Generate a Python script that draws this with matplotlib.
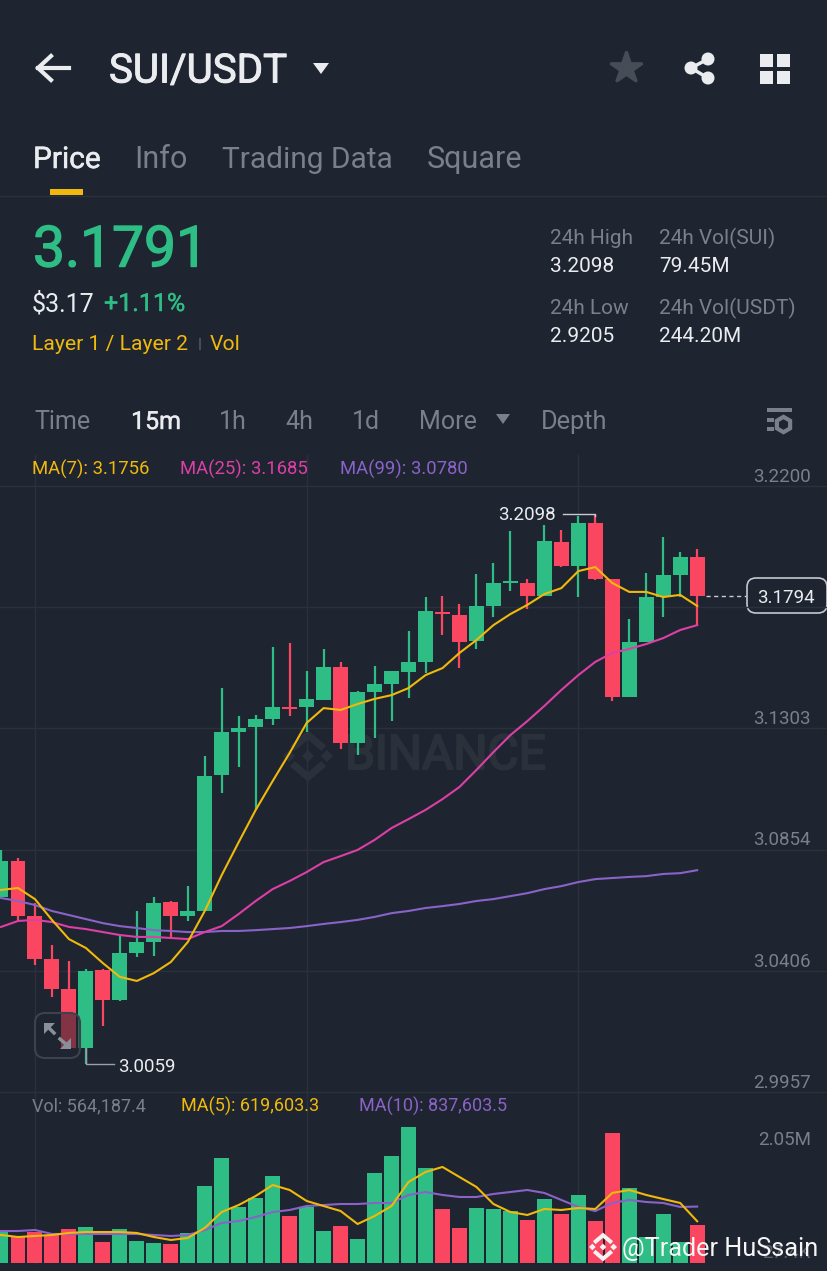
import matplotlib
matplotlib.use("Agg")
import matplotlib.pyplot as plt
import matplotlib.patheffects as pe
from matplotlib.patches import Circle, FancyBboxPatch, Polygon, Rectangle

plt.rcParams['font.family'] = ['Roboto', 'DejaVu Sans']

# candles, 15m SUI/USDT
opens = [3.0679, 3.0812, 3.0608, 3.0449, 3.0338, 3.0120, 3.0408, 3.0297, 3.0471, 3.0512, 3.0660, 3.0608, 3.0627, 3.1130,
         3.1289, 3.1308, 3.1338, 3.1382, 3.1382, 3.1408, 3.1530, 3.1249, 3.1437, 3.1467, 3.1512, 3.1549, 3.1734, 3.1722,
         3.1626, 3.1756, 3.1841, 3.1841, 3.1793, 3.1993, 3.1904, 3.2063, 3.1856, 3.1419, 3.1623, 3.1789, 3.1871, 3.1937]
closes = [3.0812, 3.0608, 3.0449, 3.0338, 3.0120, 3.0405, 3.0297, 3.0471, 3.0512, 3.0656, 3.0608, 3.0627, 3.1127, 3.1289,
          3.1304, 3.1338, 3.1382, 3.1375, 3.1412, 3.1530, 3.1249, 3.1437, 3.1467, 3.1515, 3.1549, 3.1737, 3.1726, 3.1623,
          3.1756, 3.1841, 3.1848, 3.1793, 3.1996, 3.1904, 3.2063, 3.1856, 3.1419, 3.1623, 3.1789, 3.1871, 3.1937, 3.1794]
highs = [3.0853, 3.0823, 3.0656, 3.0501, 3.0442, 3.0412, 3.0412, 3.0538, 3.0627, 3.0679, 3.0664, 3.0719, 3.1201, 3.1452,
         3.1349, 3.1352, 3.1604, 3.1619, 3.1515, 3.1597, 3.1549, 3.1441, 3.1534, 3.1515, 3.1663, 3.1789, 3.1793, 3.1763,
         3.1874, 3.1915, 3.2033, 3.1856, 3.2056, 3.2037, 3.2089, 3.2098, 3.1856, 3.1708, 3.1878, 3.2011, 3.1956, 3.1967]
lows = [3.0679, 3.0590, 3.0427, 3.0308, 3.0120, 3.0059, 3.0201, 3.0294, 3.0457, 3.0460, 3.0527, 3.0590, 3.0627, 3.1064,
        3.1160, 3.1001, 3.1315, 3.1349, 3.1289, 3.1408, 3.1226, 3.1204, 3.1267, 3.1330, 3.1415, 3.1508, 3.1648, 3.1526,
        3.1597, 3.1715, 3.1811, 3.1745, 3.1793, 3.1900, 3.1789, 3.1852, 3.1404, 3.1419, 3.1623, 3.1715, 3.1789, 3.1682]
ma7 = [3.0705, 3.0712, 3.0671, 3.0594, 3.0523, 3.0490, 3.0434, 3.0383, 3.0368, 3.0397, 3.0438, 3.0512, 3.0627, 3.0760,
       3.0882, 3.1001, 3.1108, 3.1212, 3.1323, 3.1378, 3.1371, 3.1393, 3.1412, 3.1426, 3.1452, 3.1500, 3.1526, 3.1582,
       3.1630, 3.1685, 3.1726, 3.1760, 3.1800, 3.1822, 3.1885, 3.1900, 3.1841, 3.1808, 3.1808, 3.1789, 3.1797, 3.1756]
ma25 = [3.0568, 3.0590, 3.0594, 3.0586, 3.0568, 3.0560, 3.0549, 3.0538, 3.0531, 3.0531, 3.0527, 3.0523, 3.0549, 3.0571,
        3.0616, 3.0664, 3.0708, 3.0738, 3.0771, 3.0808, 3.0830, 3.0853, 3.0890, 3.0934, 3.0967, 3.1001, 3.1041, 3.1086,
        3.1149, 3.1215, 3.1278, 3.1330, 3.1386, 3.1445, 3.1500, 3.1549, 3.1582, 3.1597, 3.1615, 3.1637, 3.1667, 3.1685]
ma99 = [3.0675, 3.0664, 3.0649, 3.0627, 3.0612, 3.0597, 3.0582, 3.0571, 3.0564, 3.0556, 3.0553, 3.0549, 3.0549, 3.0553,
        3.0553, 3.0556, 3.0560, 3.0564, 3.0571, 3.0579, 3.0586, 3.0594, 3.0605, 3.0619, 3.0627, 3.0638, 3.0645, 3.0653,
        3.0664, 3.0671, 3.0682, 3.0693, 3.0708, 3.0719, 3.0734, 3.0745, 3.0749, 3.0753, 3.0756, 3.0764, 3.0767, 3.0778]

# volume, in thousands
volumes = [460, 386, 460, 416, 505, 535, 312, 505, 327, 297, 282, 446, 1143, 1559, 832, 965, 1292, 698, 832, 475, 549,
           356, 1336, 1589, 2020, 1411, 802, 520, 817, 802, 772, 639, 950, 728, 1010, 624, 1930, 1114, 386, 728, 312, 564]
vol_ma5 = [416, 386, 401, 416, 446, 460, 460, 460, 446, 386, 342, 371, 520, 757, 861, 995, 1158, 1084, 921, 846, 772,
           579, 698, 846, 1203, 1351, 1426, 1277, 1129, 876, 757, 713, 802, 787, 817, 802, 1040, 1084, 1010, 950, 891, 620]
vol_ma10 = [475, 475, 490, 431, 431, 431, 431, 431, 431, 416, 401, 416, 490, 594, 624, 683, 757, 787, 846, 861, 876,
            876, 891, 891, 1010, 1054, 1010, 980, 980, 1025, 1054, 1084, 1040, 936, 832, 772, 891, 936, 906, 891, 832, 838]

price_ticks = ["3.2200", "3.1303", "3.0854", "3.0406", "2.9957"]

BG = '#1e2530'
GRID = '#2b313b'
GREEN = '#2ebd85'
RED = '#fa4660'
YELLOW = '#f0b90b'
PINK = '#dd3fa6'
PURPLE = '#8a62c8'
GRAY = '#79808c'
LIGHT = '#eaecef'
W, H = 828, 1271

fig = plt.figure(figsize=(W / 100, H / 100), dpi=100, facecolor=BG)


def pixel_axes(z):
    a = fig.add_axes([0, 0, 1, 1], zorder=z)
    a.set_xlim(0, W)
    a.set_ylim(H, 0)
    a.axis('off')
    return a


def chart_axes(top, bottom, y0, y1):
    a = fig.add_axes([0, 1 - bottom / H, 1, (bottom - top) / H], zorder=1)
    # one candle every 16.98 px, first one centred on x=1
    a.set_xlim(-1 / 16.98, (W - 1) / 16.98)
    a.set_ylim(y0, y1)
    a.axis('off')
    return a


def logo(a, cx, cy, r, color, z):
    s = r / 25.0
    for dx, dy in [(0, 0), (-19, 0), (19, 0)]:
        a.add_patch(Polygon([(cx + dx * s, cy + (dy - 6) * s), (cx + (dx + 6) * s, cy + dy * s),
                             (cx + dx * s, cy + (dy + 6) * s), (cx + (dx - 6) * s, cy + dy * s)],
                            fc=color, ec='none', zorder=z))
    for sign in [-1, 1]:
        a.plot([cx - 13 * s, cx, cx + 13 * s], [cy + sign * 10 * s, cy + sign * 21 * s, cy + sign * 10 * s],
               color=color, lw=5.2 * s, solid_joinstyle='miter', zorder=z)


ui = pixel_axes(0)
top = pixel_axes(3)
price = chart_axes(486, 1092, 2.9957, 3.2200)
vol = chart_axes(1092, 1263, 0, 2539)


def label(x, y, s, color=GRAY, size=15, ha='left', heavy=0, a=ui):
    t = a.text(x, y, s, color=color, fontsize=size, ha=ha, va='center')
    if heavy:
        # a thin stroke thickens the letters
        t.set_path_effects([pe.withStroke(linewidth=heavy, foreground=color)])
    return t


# header
ui.plot([38, 69], [68, 68], color=LIGHT, lw=3)
ui.plot([51, 38, 51], [56, 68, 80], color=LIGHT, lw=3, solid_joinstyle='miter')
label(109, 71, "SUI/USDT", LIGHT, 29, heavy=0.7)
ui.add_patch(Polygon([(313, 63), (329, 63), (321, 74)], fc=LIGHT, ec='none'))
ui.plot([626], [68], marker='*', ms=24, color='#474d57', mec='#474d57', mew=2, ls='none')
ui.plot([708, 691, 708], [59, 68, 78], color=LIGHT, lw=2.5)
for x, y in [(691, 68), (708, 59), (708, 78)]:
    ui.add_patch(Circle((x, y), 6.5, fc=LIGHT, ec='none', zorder=3))
for x in [760, 777]:
    for y in [54, 71]:
        ui.add_patch(Rectangle((x, y), 13, 13, fc=LIGHT, ec='none'))

# tabs
label(33, 160, "Price", LIGHT, 21.5, heavy=0.4)
label(134, 160, "Info", GRAY, 22)
label(222, 160, "Trading Data", GRAY, 21.5)
label(427, 160, "Square", GRAY, 22)
ui.add_patch(Rectangle((50, 189), 33, 6, fc=YELLOW, ec='none'))
ui.plot([0, W], [195.5, 195.5], color=GRID, lw=1)

# price block
label(33, 251, "3.1791", GREEN, 41, heavy=1.0)
label(32, 304, "$3.17", LIGHT, 18)
label(104, 304, "+1.11%", GREEN, 18, heavy=0.3)
label(32, 344, "Layer 1 / Layer 2", YELLOW, 15.2)
ui.plot([200, 200], [339, 349], color='#474d57', lw=1.5)
label(210, 344, "Vol", YELLOW, 15.2)
label(550, 238, "24h High", GRAY, 15)
label(550, 267, "3.2098", LIGHT, 15)
label(659, 238, "24h Vol(SUI)", GRAY, 15)
label(659, 267, "79.45M", LIGHT, 15)
label(550, 308, "24h Low", GRAY, 15)
label(550, 337, "2.9205", LIGHT, 15)
label(659, 308, "24h Vol(USDT)", GRAY, 15)
label(659, 337, "244.20M", LIGHT, 15)

# interval row
label(34, 422, "Time", GRAY, 18)
label(131, 422, "15m", LIGHT, 18, heavy=0.3)
label(219, 422, "1h", GRAY, 18)
label(285, 422, "4h", GRAY, 18)
label(352, 422, "1d", GRAY, 18)
label(419, 422, "More", GRAY, 18)
ui.add_patch(Polygon([(496, 414), (510, 414), (503, 424)], fc=GRAY, ec='none'))
label(541, 422, "Depth", GRAY, 18.3)
ui.add_patch(Rectangle((767, 408), 25, 4, fc=GRAY, ec='none'))
ui.add_patch(Rectangle((767, 418), 7, 3.5, fc=GRAY, ec='none'))
ui.add_patch(Rectangle((767, 427), 7, 3.5, fc=GRAY, ec='none'))
ui.plot([783], [424], marker='h', ms=11, mfc='none', mec=GRAY, mew=3, ls='none')

# grid and watermark sit under the candles
for y in [486, 607, 728, 850, 971, 1092]:
    ui.plot([0, W], [y, y], color=GRID, lw=1)
for x in [35, 307, 578]:
    ui.plot([x, x], [455, 1263], color=GRID, lw=1)
logo(ui, 308, 756, 25, '#2b313b', 1)
label(345, 756, "BINANCE", '#2b313b', 34.5, heavy=1.5)

# MA legend and price scale
label(32, 469, "MA(7): 3.1756", YELLOW, 13.3)
label(180, 469, "MA(25): 3.1685", PINK, 13.3)
label(340, 469, "MA(99): 3.0780", PURPLE, 13.3)
for y, s in zip([477, 719, 840, 962, 1083], price_ticks):
    label(811, y, s, GRAY, 13.5, ha='right')

# candles
x = list(range(len(opens)))
colors = [GREEN if c >= o else RED for o, c in zip(opens, closes)]
price.vlines(x, lows, highs, colors=colors, lw=1.6, zorder=2)
price.bar(x, [abs(c - o) for o, c in zip(opens, closes)], bottom=[min(o, c) for o, c in zip(opens, closes)],
          width=0.88, color=colors, zorder=3)
price.plot(x, ma99, color=PURPLE, lw=1.5, zorder=4)
price.plot(x, ma25, color=PINK, lw=1.5, zorder=5)
price.plot(x, ma7, color=YELLOW, lw=1.5, zorder=6)

# high / low / last price markers
price.plot([33.1, 35, 35], [3.2098, 3.2098, 3.2089], color='#c8ccd2', lw=1, zorder=7)
label(556, 515, "3.2098", LIGHT, 13.5, ha='right')
price.plot([5, 5, 6.65], [3.0120, 3.0059, 3.0059], color='#9aa0a8', lw=1, zorder=7)
label(118, 1067, "3.0059", LIGHT, 13.5)
price.plot([41.5, 43.9], [3.1794, 3.1794], color='#c8ccd2', lw=1, ls=(0, (3, 2.5)), zorder=2)
ui.add_patch(FancyBboxPatch((747, 578), 80, 35, boxstyle="round,pad=0,rounding_size=9", fc=BG, ec='#c4c8ce', lw=1.2))
label(786, 598, "3.1794", LIGHT, 13.5, ha='center')

# volume
label(32, 1106, "Vol: 564,187.4", GRAY, 13)
label(181, 1106, "MA(5): 619,603.3", YELLOW, 13)
label(359, 1106, "MA(10): 837,603.5", PURPLE, 13)
label(811, 1140, "2.05M", GRAY, 13.5, ha='right')
label(811, 1253, "27.4K", '#5d6470', 13.5, ha='right')
vol.bar(x, volumes, width=0.88, color=colors, zorder=2)
vol.plot(x, vol_ma10, color=PURPLE, lw=1.5, zorder=3)
vol.plot(x, vol_ma5, color=YELLOW, lw=1.5, zorder=4)

# expand button over the candles
top.add_patch(FancyBboxPatch((35, 1013), 45, 45, boxstyle="round,pad=0,rounding_size=10", fc=(0.12, 0.15, 0.19, 0.55),
                             ec='#3d434d', lw=1.5))
top.plot([47, 54], [1026, 1033], color='#8a909a', lw=2.5)
top.plot([60, 68], [1039, 1046], color='#8a909a', lw=2.5)
top.add_patch(Polygon([(44, 1023), (55, 1023), (44, 1034)], fc='#8a909a', ec='none'))
top.add_patch(Polygon([(71, 1049), (60, 1049), (71, 1038)], fc='#8a909a', ec='none'))

# repost credit
logo(top, 603, 1247, 14, '#f2f2f2', 5)
top.text(622, 1249, "@Trader HuSsain", color='#f5f5f5', fontsize=18.2, va='center', ha='left', zorder=5)

fig.savefig("out.png", dpi=100, facecolor=BG)
